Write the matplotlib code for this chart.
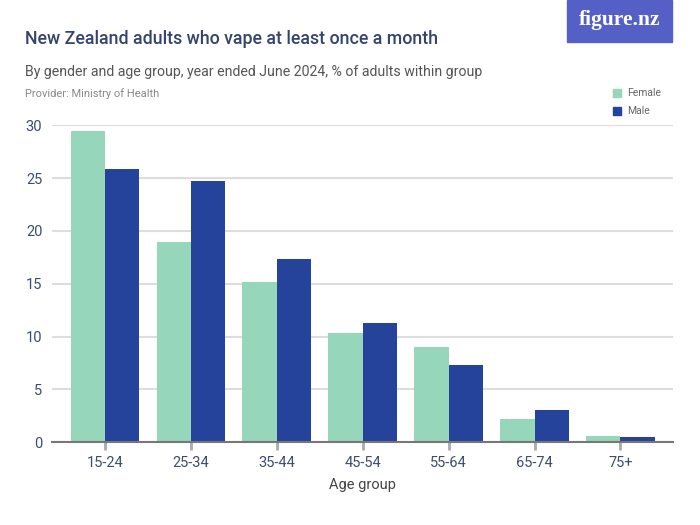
import matplotlib
matplotlib.use("Agg")
import matplotlib.pyplot as plt
import numpy as np
from matplotlib.patches import Rectangle

categories = ["15-24", "25-34", "35-44", "45-54", "55-64", "65-74", "75+"]
female = [29.5, 19.0, 15.2, 10.3, 9.0, 2.2, 0.6]
male = [25.9, 24.7, 17.3, 11.3, 7.3, 3.0, 0.5]
yticks = [0, 5, 10, 15, 20, 25, 30]

FONT = ["Roboto", "DejaVu Sans"]
plt.rcParams["font.family"] = FONT

fig = plt.figure(figsize=(7, 5.25), dpi=100)
ax = fig.add_axes([0.0743, 0.158, 0.961 - 0.0743, 0.761 - 0.158])

x = np.arange(len(categories))
w = 0.4
c_f = "#96d6bb"
c_m = "#26439c"
ax.bar(x - w / 2, female, width=w, color=c_f, zorder=3)
ax.bar(x + w / 2, male, width=w, color=c_m, zorder=3)

ax.set_xlim(-0.617, 6.608)
ax.set_ylim(0, 30)
ax.set_yticks(yticks)
ax.set_xticks(x)
ax.set_xticklabels(categories)
ax.grid(axis="y", color="#dddddd", linewidth=1.5, zorder=0)
for s in ["top", "right", "left"]:
    ax.spines[s].set_visible(False)
ax.spines["bottom"].set_color("#777777")
ax.spines["bottom"].set_linewidth(1.5)
ax.spines["bottom"].set_zorder(4)
ax.tick_params(axis="y", length=0, pad=7, labelsize=10.5, labelcolor="#3d4d6e")
ax.tick_params(axis="x", length=6, width=2, color="#aaaaaa", pad=4, labelsize=10.5, labelcolor="#3d4d6e")
ax.set_xlabel("Age group", fontsize=10.5, color="#444444", labelpad=6)

fig.text(0.036, 0.916, "New Zealand adults who vape at least once a month", fontsize=12.8,
         color="#33456b", fontweight="medium", va="baseline")
fig.text(0.036, 0.855, "By gender and age group, year ended June 2024, % of adults within group",
         fontsize=10.2, color="#555555", va="baseline")
fig.text(0.036, 0.815, "Provider: Ministry of Health", fontsize=8, color="#888888", va="baseline")

# legend
fig.patches.append(Rectangle((613 / 700, 1 - 97 / 525), 8 / 700, 8 / 525, color=c_f,
                             transform=fig.transFigure, figure=fig))
fig.patches.append(Rectangle((613 / 700, 1 - 115 / 525), 8 / 700, 8 / 525, color=c_m,
                             transform=fig.transFigure, figure=fig))
fig.text(627 / 700, 1 - 93 / 525, "Female", fontsize=7.5, color="#666666", va="center")
fig.text(627 / 700, 1 - 111 / 525, "Male", fontsize=7.5, color="#666666", va="center")

# logo
fig.patches.append(Rectangle((567 / 700, 1 - 42 / 525), 105 / 700, 42 / 525, color="#5560c6",
                             transform=fig.transFigure, figure=fig))
fig.text(619.5 / 700, 1 - 20 / 525, "figure.nz", fontsize=15.5, color="white", fontweight="bold",
         family=["Liberation Serif", "DejaVu Serif"], ha="center", va="center")

fig.savefig("out.png", dpi=100)
